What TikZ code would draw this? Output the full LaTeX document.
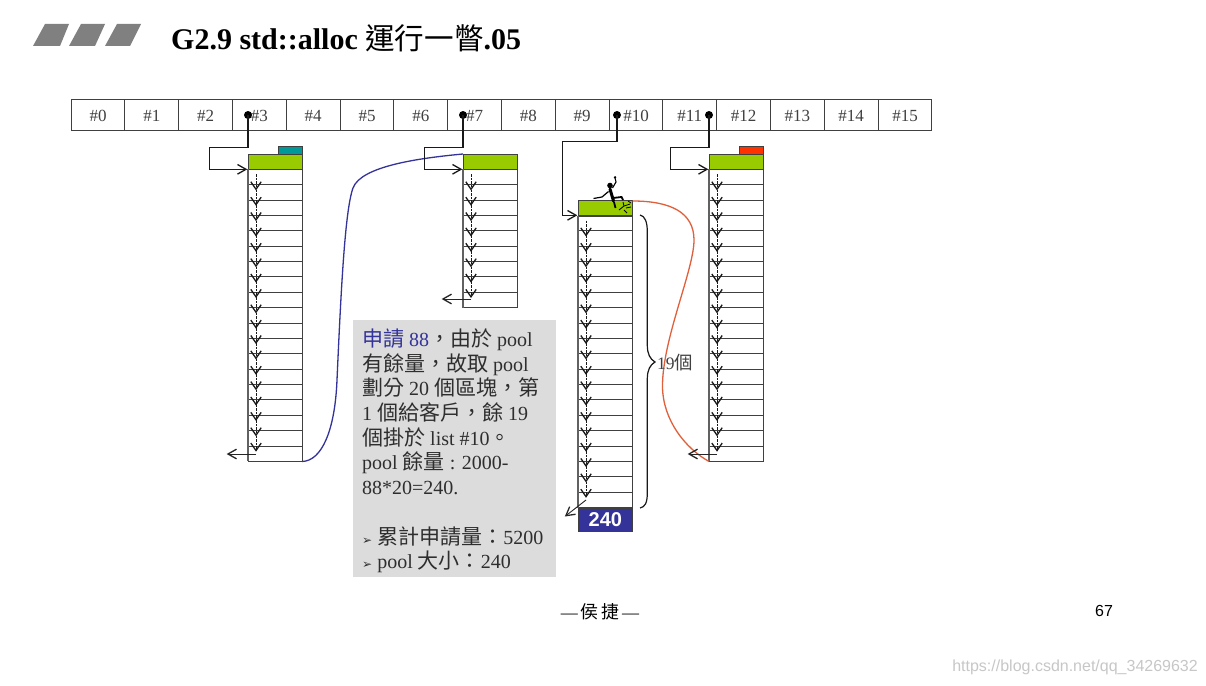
\documentclass[tikz,border=0pt]{standalone}
\usepackage{fontspec}
\setmainfont{Liberation Serif}
\newfontfamily\cjk{Noto Sans CJK TC}
\newfontfamily\arialf{Liberation Sans}
\newfontfamily\djv{DejaVu Sans}
\newcommand{\CC}[1]{{\cjk\addfontfeature{Scale=1.05}#1}}
\usetikzlibrary{arrows.meta}
\pgfarrowsdeclare{rowvee}{rowvee}{\pgfarrowsleftextend{-7pt}\pgfarrowsrightextend{0.5pt}}{%
  \pgfsetmiterjoin\pgfsetdash{}{0pt}%
  \pgfsetlinewidth{1.3pt}%
  \pgfpathmoveto{\pgfpoint{-7.5pt}{5.2pt}}\pgfpathlineto{\pgfpointorigin}\pgfpathlineto{\pgfpoint{-7.5pt}{-5.2pt}}%
  \pgfusepathqstroke}
\pgfarrowsdeclare{ptrvee}{ptrvee}{\pgfarrowsleftextend{-8pt}\pgfarrowsrightextend{0.5pt}}{%
  \pgfsetmiterjoin\pgfsetdash{}{0pt}%
  \pgfsetlinewidth{1.3pt}%
  \pgfpathmoveto{\pgfpoint{-8.5pt}{4.8pt}}\pgfpathlineto{\pgfpointorigin}\pgfpathlineto{\pgfpoint{-8.5pt}{-4.8pt}}%
  \pgfusepathqstroke}
\definecolor{linec}{HTML}{404040}
\definecolor{greenc}{HTML}{99CC00}
\definecolor{tealc}{HTML}{009999}
\definecolor{redc}{HTML}{FF3300}
\definecolor{navyc}{HTML}{333399}
\definecolor{boxc}{HTML}{DCDCDC}
\definecolor{parac}{HTML}{808080}
\definecolor{orangec}{HTML}{E0603C}
\tikzset{
 x=1pt,y=-1pt,
 cellbox/.style={draw=linec,line width=1pt,minimum width=53.8pt,minimum height=30.8pt,inner sep=0,text height=11.5pt,text depth=0pt,font=\fontsize{17}{17}\selectfont,text=black!75},
 rowline/.style={draw=linec,line width=1pt},
 sideline/.style={draw=black!62,line width=1.5pt},
 ptr/.style={draw=black!90,line width=1.3pt,-ptrvee},
 nextp/.style={draw=black!90,line width=0.8pt,dash pattern=on 2.5pt off 1pt,-rowvee},
 endp/.style={draw=black!85,line width=0.9pt,-ptrvee},
 dotn/.style={circle,fill=black,inner sep=0,minimum size=8pt},
 blockhead/.style={draw=linec,line width=1pt,fill=greenc,minimum width=54pt,minimum height=15.4pt,inner sep=0},
 para/.style={fill=parac,draw=none}
}
\newcommand{\blockcol}[4]{%
  \foreach \i in {1,...,#4}{%
    \pgfmathsetmacro{\yy}{#3+\i*15.37}
    \pgfmathsetmacro{\ya}{\yy-15.37+5}
    \pgfmathsetmacro{\yb}{\yy+5}
    \draw[rowline] (#2,\yy) -- (#2+54,\yy);
    \ifnum\i<#4\relax
    \draw[nextp] (#2+8,\ya) -- (#2+8,\yb);
    \fi
  }
  \pgfmathsetmacro{\yz}{#3+#4*15.37}
  \draw[rowline] (#2,#3) rectangle (#2+54,\yz);
  \draw[sideline] (#2,#3) -- (#2,\yz);
}
\begin{document}
\begin{tikzpicture}
\useasboundingbox (0,0) rectangle (1206,685);
\fill[white] (0,0) rectangle (1206,685);
% title decoration
\path[para] (33,46) -- (45,24) -- (69,24) -- (60,46) -- cycle;
\path[para] (69,46) -- (81,24) -- (105,24) -- (95,46) -- cycle;
\path[para] (105,46) -- (117,24) -- (141,24) -- (130,46) -- cycle;
\node[anchor=west,inner sep=0,font=\fontsize{30}{30}\selectfont\bfseries] (title) at (171,38) {G2.9 std::alloc {\cjk\addfontfeature{Scale=0.985}\mdseries 運行一瞥}.05};
% free list bar
\foreach \n in {0,...,15}{
  \node[cellbox] (c\n) at (98+\n*53.8,115.3) {\#\n};
}
% gray text box
\node[fill=boxc,minimum width=203pt,minimum height=257pt,inner sep=0] (tb) at (454.5,448.5) {};
\node[anchor=north west,inner sep=0,align=left,font=\fontsize{20}{24.7}\selectfont,text=black!82] (tx) at (362,328.5) {%
\textcolor{navyc}{\CC{申請} 88}\CC{，由於} pool\\
\CC{有餘量，故取} pool\\
\CC{劃分} 20 \CC{個區塊，第}\\
1 \CC{個給客戶，餘} 19\\
\CC{個掛於} list \#10\CC{。}\\
pool \CC{餘量} : 2000-\\
88*20=240.\\[24.7pt]
{\djv\fontsize{12}{12}\selectfont ➢} \CC{累計申請量：}5200\\
{\djv\fontsize{12}{12}\selectfont ➢} pool \CC{大小：}240};
% blue curve
\coordinate (b3) at (302,461.5);
\coordinate (t7) at (463,154);
\draw[draw=navyc,line width=1.3pt] (t7) .. controls (420,158) and (361,166) .. (353,188) .. controls (345,210) and (341,290) .. (337,380) .. controls (335,430) and (322,461) .. (b3);
% block columns
\fill[tealc,draw=linec,line width=0.7pt] (278.5,146) rectangle (302,154);
\fill[redc,draw=linec,line width=0.7pt] (739,146) rectangle (763,154);
\node[blockhead,anchor=north west] (h3) at (248,154) {};
\node[blockhead,anchor=north west] (h7) at (463,154) {};
\node[blockhead,anchor=north west,minimum height=16pt] (h10) at (578,199.5) {};
\node[blockhead,anchor=north west] (h11) at (709,154) {};
\blockcol{a}{248}{169.4}{19}
\blockcol{b}{463}{169.4}{9}
\blockcol{c}{578}{215.5}{19}
\blockcol{d}{709}{169.4}{19}
\node[draw=linec,line width=0.8pt,fill=navyc,text=white,font=\arialf\bfseries\fontsize{20}{20}\selectfont,minimum width=54pt,minimum height=23.3pt,inner sep=0,anchor=north west] (pool) at (578,507.7) {240};
% orange curve
\coordinate (t10) at (632.5,201);
\coordinate (b12) at (709,461.5);
\draw[draw=orangec,line width=1.3pt] (t10) .. controls (670,201) and (694,212) .. (694,240) .. controls (694,270) and (662,340) .. (662.5,387) .. controls (663,420) and (685,448) .. (b12);
% dots and pointers
\node[dotn] (d3) at (248,115) {};
\node[dotn] (d7) at (463,115) {};
\node[dotn] (d10) at (617,115) {};
\node[dotn] (d11) at (709,115) {};
\coordinate (e3) at (246.5,169.3);
\coordinate (e7) at (461.5,169.3);
\coordinate (e10) at (576.5,215.3);
\coordinate (e11) at (707.5,169.3);
\draw[ptr] (d3.center) |- (209.5,147.5) |- (e3);
\draw[ptr] (d7.center) |- (424.5,147.5) |- (e7);
\draw[ptr] (d10.center) |- (562.7,141.7) |- (e10);
\draw[ptr] (d11.center) |- (670.5,147.5) |- (e11);
% end-of-list arrows
\coordinate (l3a) at (256,454); \coordinate (l3b) at (227.5,454);
\coordinate (l7a) at (471,299); \coordinate (l7b) at (442.5,299);
\coordinate (l10a) at (586,500); \coordinate (l10b) at (565.5,516);
\coordinate (l11a) at (717,454); \coordinate (l11b) at (688.5,454);
\draw[endp] (l3a) -- (l3b);
\draw[endp] (l7a) -- (l7b);
\draw[endp] (l10a) -- (l10b);
\draw[endp] (l11a) -- (l11b);
% brace
\draw[line width=1.2pt,black!90] (640,215) .. controls (645,216) and (647.3,222) .. (647.3,232) -- (647.3,345) .. controls (647.3,354) and (650,359) .. (655,362) .. controls (650,365) and (647.3,370) .. (647.3,379) -- (647.3,493) .. controls (647.3,503) and (645,507) .. (640,508);
\node[anchor=west,inner sep=0,text=black!75,font=\fontsize{17.5}{17.5}\selectfont] (n19) at (657,363) {19\CC{個}};
% stick figure
\fill[black] (610,185.5) circle (2.8);
\draw[line width=3pt,line cap=round] (610,189) -- (613.5,201);
\draw[line width=1.1pt] (612.5,188) -- (616,182) -- (615,178);
\fill (615,177.3) circle (1.3);
\draw[line width=1.2pt] (608.5,191.5) -- (602,197) -- (593.5,198.5);
\draw[line width=1.8pt] (613,198) -- (621.5,197) -- (623,200);
\draw[line width=1.8pt] (614,202) -- (615.5,208);
\draw[line width=0.8pt] (623,202) -- (624,206) -- (619,210) (624,206) -- (630,204) (626,208) -- (631,207) (624,210) -- (627,213) (628,201) -- (631,203);
% footer
\node[inner sep=0,font=\fontsize{17}{17}\selectfont] (foot) at (600,612) {—\,\CC{侯\,捷}\,—};
\node[inner sep=0,font=\arialf\fontsize{16}{16}\selectfont] (pg) at (1104,611) {67};
\node[anchor=east,inner sep=0,text=black!22,font=\arialf\fontsize{16}{16}\selectfont] (wm) at (1198,667) {https://blog.csdn.net/qq\_34269632};
\end{tikzpicture}
\end{document}
